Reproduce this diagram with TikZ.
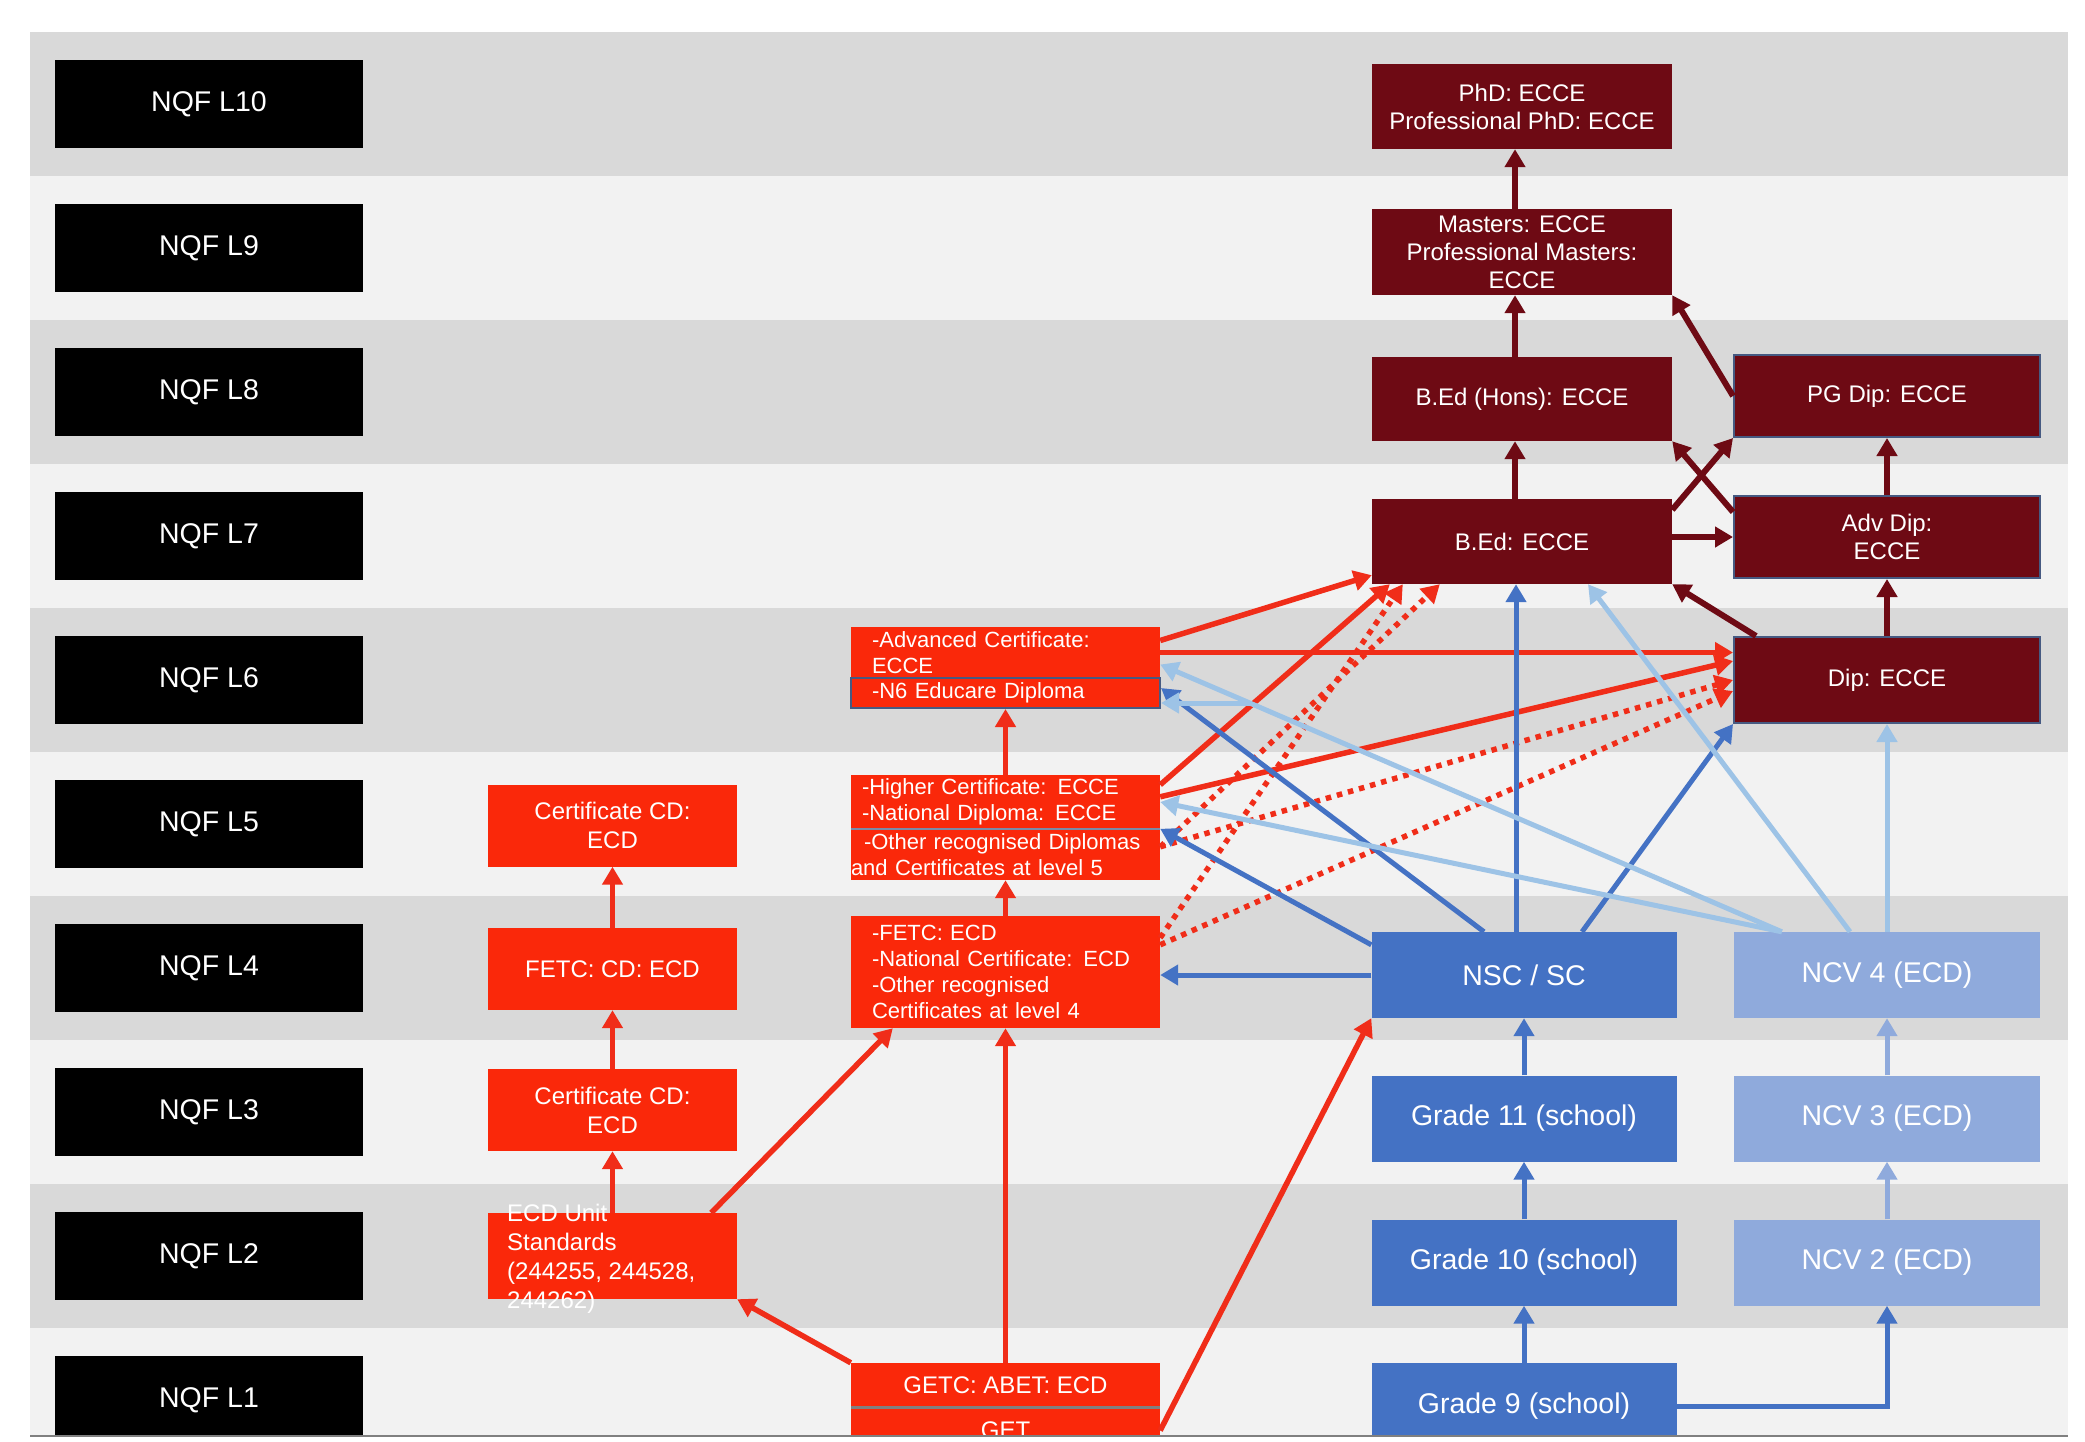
\documentclass[tikz,border=0pt]{standalone}
\usepackage{fontspec}
\setmainfont{Liberation Sans}
\usetikzlibrary{arrows.meta}

\definecolor{bandgray}{RGB}{217,217,217}
\definecolor{bandlight}{RGB}{242,242,242}
\definecolor{redfill}{RGB}{250,40,10}
\definecolor{redline}{RGB}{240,45,25}
\definecolor{maroonfill}{RGB}{110,10,20}
\definecolor{blueone}{RGB}{68,114,196}
\definecolor{bluetwo}{RGB}{143,170,220}
\definecolor{paleline}{RGB}{157,195,230}
\definecolor{slate}{RGB}{70,90,130}

\begin{document}
\begin{tikzpicture}[x=1pt, y=-1pt,
  lvl/.style={fill=black, text=white, minimum width=308pt, minimum height=88pt, inner sep=0pt, font=\fontsize{28.5}{32}\selectfont},
  mbox/.style={fill=maroonfill, text=white, minimum width=300pt, minimum height=85pt, inner sep=0pt, align=center, font=\fontsize{24}{28}\selectfont},
  dbox/.style={draw=slate, line width=2pt, minimum width=306pt, minimum height=82pt},
  bbox/.style={fill=blueone, text=white, minimum width=305pt, minimum height=86pt, inner sep=0pt, font=\fontsize{28.5}{32}\selectfont},
  abox/.style={fill=redfill, text=white, minimum width=249pt, minimum height=82pt, inner sep=0pt, align=center, font=\fontsize{24}{29}\selectfont},
  bred/.style={fill=redfill, text=white, minimum width=309pt, inner ysep=0pt, inner xsep=21pt, text width=267pt, align=left, font=\fontsize{22}{26}\selectfont},
  tip/.style={-{Triangle[length=18pt,width=20pt]}},
  mararr/.style={draw=maroonfill, line width=6pt, tip},
  redarr/.style={draw=redline, line width=5.5pt, tip},
  reddots/.style={draw=redline, line width=5.5pt, dash pattern=on 5.5pt off 6pt, tip},
  bluearr/.style={draw=blueone, line width=5pt, tip},
  palearr/.style={draw=paleline, line width=5pt, tip}]

\useasboundingbox (0,0) rectangle (2085,1442);
\fill[white] (0,0) rectangle (2085,1442);

\begin{scope}
\clip (0,0) rectangle (2085,1435);

\fill[bandgray] (30,32) rectangle (2068,176);
\fill[bandlight] (30,176) rectangle (2068,320);
\fill[bandgray] (30,320) rectangle (2068,464);
\fill[bandlight] (30,464) rectangle (2068,608);
\fill[bandgray] (30,608) rectangle (2068,752);
\fill[bandlight] (30,752) rectangle (2068,896);
\fill[bandgray] (30,896) rectangle (2068,1040);
\fill[bandlight] (30,1040) rectangle (2068,1184);
\fill[bandgray] (30,1184) rectangle (2068,1328);
\fill[bandlight] (30,1328) rectangle (2068,1472);

\node[lvl] (lten) at (209,104) {NQF L10};
\node[lvl] (lnine) at (209,248) {NQF L9};
\node[lvl] (leight) at (209,392) {NQF L8};
\node[lvl] (lseven) at (209,536) {NQF L7};
\node[lvl] (lsix) at (209,680) {NQF L6};
\node[lvl] (lfive) at (209,824) {NQF L5};
\node[lvl] (lfour) at (209,968) {NQF L4};
\node[lvl] (lthree) at (209,1112) {NQF L3};
\node[lvl] (ltwo) at (209,1256) {NQF L2};
\node[lvl] (lone) at (209,1400) {NQF L1};

\node[mbox] (phd) at (1522,106.5) {PhD: ECCE\\Professional PhD: ECCE};
\node[mbox, minimum height=86pt] (masters) at (1522,252) {Masters: ECCE\\Professional Masters:\\ECCE};
\node[mbox, minimum height=84pt] (bedhons) at (1522,399) {B.Ed (Hons): ECCE};
\node[mbox] (bed) at (1522,541.5) {B.Ed: ECCE};
\node[mbox, dbox] (pgdip) at (1887,396) {PG Dip: ECCE};
\node[mbox, dbox] (advdip) at (1887,537) {Adv Dip:\\ECCE};
\node[mbox, dbox, minimum height=86pt] (dip) at (1887,680) {Dip: ECCE};

\node[bbox] (nsc) at (1524,975) {NSC / SC};
\node[bbox] (gradeeleven) at (1524,1118.5) {Grade 11 (school)};
\node[bbox] (gradeten) at (1524,1262.5) {Grade 10 (school)};
\node[bbox] (gradenine) at (1524,1406) {Grade 9 (school)};
\node[bbox, fill=bluetwo, minimum width=306pt] (ncvfour) at (1887,975) {NCV 4 (ECD)};
\node[bbox, fill=bluetwo, minimum width=306pt] (ncvthree) at (1887,1118.5) {NCV 3 (ECD)};
\node[bbox, fill=bluetwo, minimum width=306pt] (ncvtwo) at (1887,1262.5) {NCV 2 (ECD)};

\node[abox] (certfive) at (612.5,825.5) {Certificate CD:\\ECD};
\node[abox] (fetccd) at (612.5,969) {FETC: CD: ECD};
\node[abox] (certthree) at (612.5,1110) {Certificate CD:\\ECD};
\node[abox, minimum height=86pt] (unitstd) at (612.5,1256) {};

\node[bred, minimum height=51pt] (advcert) at (1005.5,652.5) {-Advanced Certificate:\\ECCE};
\node[bred, draw=slate, line width=2pt, minimum height=30pt] (neducare) at (1005.5,693) {-N6 Educare Diploma};
\node[bred, minimum height=54pt, inner xsep=11pt, text width=287pt] (higher) at (1005.5,802) {-Higher Certificate: ECCE\\-National Diploma: ECCE};
\node[bred, minimum height=51pt, inner xsep=0pt, text width=309pt] (otherdip) at (1005.5,854.5) {\hspace*{13pt}-Other recognised Diplomas\\and Certificates at level 5};
\draw[slate!70, line width=2pt] (otherdip.north west) -- (otherdip.north east);
\node[bred, minimum height=112pt] (fetc) at (1005.5,972) {-FETC: ECD\\-National Certificate: ECD\\-Other recognised\\Certificates at level 4};
\node[abox, minimum width=309pt, minimum height=45pt] (getc) at (1005.5,1385.5) {GETC: ABET: ECD};
\node[abox, minimum width=309pt, minimum height=45pt] (getbox) at (1005.5,1430.5) {GET};
\draw[gray, line width=3pt] (getbox.north west) -- (getbox.north east);

\draw[mararr] ([xshift=-7pt]masters.north) -- ([xshift=-7pt]phd.south);
\draw[mararr] ([xshift=-7pt]bedhons.north) -- ([xshift=-7pt]masters.south);
\draw[mararr] ([xshift=-7pt]bed.north) -- ([xshift=-7pt]bedhons.south);
\draw[mararr] (pgdip.west) -- (masters.south east);
\draw[mararr] ([yshift=-11pt]bed.north east) -- (pgdip.south west);
\draw[mararr] ([yshift=-17pt]advdip.north west) -- (bedhons.south east);
\draw[mararr] (advdip.west -| bed.east) -- (advdip.west);
\draw[mararr] (advdip.north) -- (pgdip.south);
\draw[mararr] (dip.north) -- (advdip.south);
\draw[mararr] ([xshift=23pt]dip.north west) -- (bed.south east);

\draw[redarr] ([yshift=12pt]advcert.east) -- ([yshift=9pt]bed.south west);
\draw[redarr] (advcert.east) -- (advcert.east -| dip.west);
\draw[redarr] ([yshift=-10pt]higher.north east) -- ([xshift=18pt]bed.south west);
\draw[redarr] ([yshift=-22pt]higher.north east) -- ([yshift=-25pt]dip.north west);
\draw[reddots] ([yshift=-18pt]otherdip.north east) -- ([xshift=68pt]bed.south west);
\draw[reddots] ([yshift=-18pt]otherdip.north east) -- (dip.west);
\draw[reddots] ([yshift=-22pt]fetc.north east) -- ([xshift=31pt]bed.south west);
\draw[reddots] ([yshift=-29pt]fetc.north east) -- ([yshift=-11pt]dip.west);
\draw[redarr] (fetc.north) -- (otherdip.south);
\draw[redarr] (higher.north) -- (neducare.south);
\draw[redarr] (getc.north) -- (fetc.south);
\draw[redarr] (getbox.east) -- (nsc.south west);
\draw[redarr] (getc.north west) -- (unitstd.south east);
\draw[redarr] ([xshift=-26pt]unitstd.north east) -- ([xshift=42pt]fetc.south west);
\draw[redarr] (unitstd.north) -- (certthree.south);
\draw[redarr] (certthree.north) -- (fetccd.south);
\draw[redarr] (fetccd.north) -- (certfive.south);

\draw[bluearr] ([xshift=-8pt]nsc.north) -- ([xshift=-6pt]bed.south);
\draw[bluearr] ([xshift=-40pt]nsc.north) -- ([yshift=5pt]neducare.east);
\draw[bluearr] ([yshift=-13pt]nsc.north west) -- (otherdip.north east);
\draw[bluearr] (nsc.west) -- (nsc.west -| fetc.east);
\draw[bluearr] ([xshift=58pt]nsc.north) -- (dip.south west);
\draw[bluearr] (gradeeleven.north) -- (nsc.south);
\draw[bluearr] (gradeten.north) -- (gradeeleven.south);
\draw[bluearr] (gradenine.north) -- (gradeten.south);
\draw[bluearr] (gradenine.east) -| (ncvtwo.south);

\draw[palearr] ([xshift=48pt]ncvfour.north west) -- ([yshift=-12pt]advcert.east);
\draw[palearr] ([xshift=48pt]ncvfour.north west) -- (higher.east);
\draw[palearr] ([xshift=-37pt]ncvfour.north) -- ([xshift=66pt]bed.south);
\draw[palearr] (ncvfour.north) -- (dip.south);
\draw[palearr, draw=bluetwo] (ncvthree.north) -- (ncvfour.south);
\draw[palearr, draw=bluetwo] (ncvtwo.north) -- (ncvthree.south);
\coordinate (stub) at (1252,703);
\draw[palearr] (stub) -- ([yshift=-10pt]neducare.east);

\node[text=white, inner sep=0pt, anchor=west, align=left, font=\fontsize{24}{29}\selectfont] (unitstdtext) at (507,1259) {ECD Unit\\Standards\\(244255, 244528,\\244262)};
\end{scope}

\draw[gray, line width=2pt] (30,1436) -- (2068,1436);
\end{tikzpicture}
\end{document}
